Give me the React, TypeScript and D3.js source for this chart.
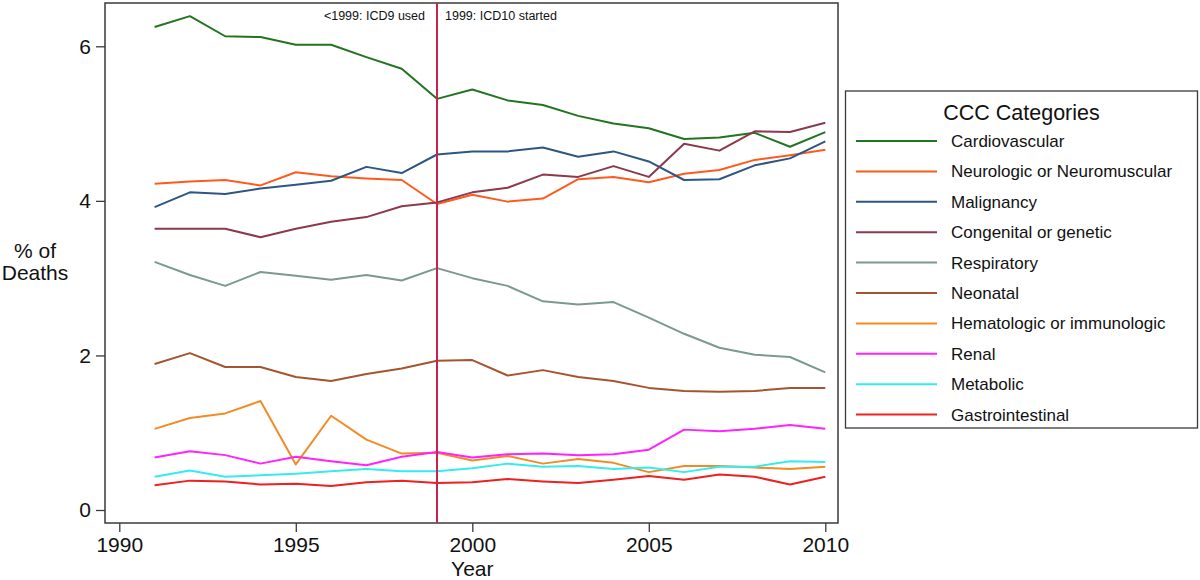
import React, { useEffect, useRef } from "react";
import * as d3 from "d3";

const years = [
  1991, 1992, 1993, 1994, 1995, 1996, 1997, 1998, 1999, 2000,
  2001, 2002, 2003, 2004, 2005, 2006, 2007, 2008, 2009, 2010,
];

const cardiovascular = [6.25, 6.39, 6.13, 6.12, 6.02, 6.02, 5.86, 5.71, 5.32, 5.44, 5.3, 5.24, 5.1, 5.0, 4.94, 4.8, 4.82, 4.88, 4.7, 4.89];
const neurologic = [4.22, 4.25, 4.27, 4.2, 4.37, 4.32, 4.29, 4.27, 3.96, 4.08, 3.99, 4.03, 4.28, 4.31, 4.24, 4.35, 4.4, 4.53, 4.59, 4.66];
const malignancy = [3.92, 4.11, 4.09, 4.16, 4.21, 4.26, 4.44, 4.36, 4.6, 4.64, 4.64, 4.69, 4.57, 4.64, 4.51, 4.27, 4.28, 4.46, 4.55, 4.77];
const congenital = [3.64, 3.64, 3.64, 3.53, 3.64, 3.73, 3.79, 3.93, 3.98, 4.11, 4.17, 4.34, 4.31, 4.45, 4.31, 4.74, 4.65, 4.9, 4.89, 5.01];
const respiratory = [3.21, 3.04, 2.9, 3.08, 3.03, 2.98, 3.04, 2.97, 3.13, 3.0, 2.9, 2.7, 2.66, 2.69, 2.49, 2.28, 2.1, 2.01, 1.98, 1.78];
const neonatal = [1.89, 2.03, 1.85, 1.85, 1.72, 1.67, 1.76, 1.83, 1.93, 1.94, 1.74, 1.81, 1.72, 1.67, 1.58, 1.54, 1.53, 1.54, 1.58, 1.58];
const hematologic = [1.05, 1.19, 1.25, 1.41, 0.59, 1.22, 0.91, 0.73, 0.74, 0.64, 0.7, 0.6, 0.66, 0.61, 0.49, 0.57, 0.57, 0.55, 0.53, 0.56];
const renal = [0.68, 0.76, 0.71, 0.6, 0.69, 0.63, 0.58, 0.69, 0.75, 0.68, 0.72, 0.73, 0.71, 0.72, 0.78, 1.04, 1.02, 1.05, 1.1, 1.05];
const metabolic = [0.43, 0.51, 0.43, 0.45, 0.47, 0.5, 0.53, 0.5, 0.5, 0.54, 0.6, 0.56, 0.57, 0.53, 0.55, 0.49, 0.56, 0.56, 0.63, 0.62];
const gastrointestinal = [0.32, 0.38, 0.37, 0.33, 0.34, 0.31, 0.36, 0.38, 0.35, 0.36, 0.4, 0.37, 0.35, 0.39, 0.44, 0.39, 0.46, 0.43, 0.33, 0.43];

const categories = [
  "Cardiovascular",
  "Neurologic or Neuromuscular",
  "Malignancy",
  "Congenital or genetic",
  "Respiratory",
  "Neonatal",
  "Hematologic or immunologic",
  "Renal",
  "Metabolic",
  "Gastrointestinal",
];
const seriesValues = [
  cardiovascular, neurologic, malignancy, congenital, respiratory,
  neonatal, hematologic, renal, metabolic, gastrointestinal,
];
const colors = [
  "#23741f", "#ff5a1e", "#2d5683", "#8a3a4c", "#7b9a8c",
  "#a4552f", "#f38b24", "#ff22ff", "#35ecec", "#ee2020",
];

const xTicks = [1990, 1995, 2000, 2005, 2010];
const yTicks = [0, 2, 4, 6];
const changeYear = 1999;

const FONT = "'Liberation Sans', Arial, Helvetica, sans-serif";

const App: React.FC = () => {
  const svgRef = useRef<SVGSVGElement | null>(null);

  useEffect(() => {
    if (!svgRef.current) return;
    const svg = d3.select(svgRef.current);
    svg.selectAll("*").remove();

    const width = 1200;
    const height = 580;
    const plot = { left: 105, right: 838, top: 3, bottom: 523 };

    svg.attr("width", width).attr("height", height);

    const x = d3.scaleLinear().domain([1990, 2010]).range([119.3, 825.3]);
    const y = d3.scaleLinear().domain([0, 6]).range([510, 46.3]);

    // frame
    svg
      .append("rect")
      .attr("x", plot.left)
      .attr("y", plot.top)
      .attr("width", plot.right - plot.left)
      .attr("height", plot.bottom - plot.top)
      .attr("fill", "white")
      .attr("stroke", "#3a3a3a")
      .attr("stroke-width", 1.5);

    // x axis
    const xAxis = svg
      .append("g")
      .attr("transform", `translate(0,${plot.bottom})`)
      .call(
        d3
          .axisBottom(x)
          .tickValues(xTicks)
          .tickFormat(d3.format("d"))
          .tickSize(9)
          .tickSizeOuter(0)
      );
    xAxis.select(".domain").remove();
    xAxis.selectAll("line").attr("stroke", "#3a3a3a").attr("stroke-width", 1.3);
    xAxis
      .selectAll("text")
      .attr("font-family", FONT)
      .attr("font-size", 21)
      .attr("fill", "#111")
      .attr("dy", "0.75em")
      .attr("y", 13);

    // y axis
    const yAxis = svg
      .append("g")
      .attr("transform", `translate(${plot.left},0)`)
      .call(
        d3
          .axisLeft(y)
          .tickValues(yTicks)
          .tickFormat(d3.format("d"))
          .tickSize(9)
          .tickSizeOuter(0)
      );
    yAxis.select(".domain").remove();
    yAxis.selectAll("line").attr("stroke", "#3a3a3a").attr("stroke-width", 1.3);
    yAxis
      .selectAll("text")
      .attr("font-family", FONT)
      .attr("font-size", 21)
      .attr("fill", "#111")
      .attr("x", -14);

    // axis titles
    svg
      .append("text")
      .attr("x", x(2000))
      .attr("y", 576)
      .attr("text-anchor", "middle")
      .attr("font-family", FONT)
      .attr("font-size", 21)
      .attr("fill", "#111")
      .text("Year");

    const yTitle = svg
      .append("text")
      .attr("text-anchor", "middle")
      .attr("font-family", FONT)
      .attr("font-size", 21)
      .attr("fill", "#111");
    yTitle.append("tspan").attr("x", 35).attr("y", 258).text("% of");
    yTitle.append("tspan").attr("x", 35).attr("y", 280).text("Deaths");

    // series lines
    const line = d3
      .line<number>()
      .x((_, i) => x(years[i]))
      .y((d) => y(d));

    seriesValues.forEach((vals, i) => {
      svg
        .append("path")
        .datum(vals)
        .attr("d", line)
        .attr("fill", "none")
        .attr("stroke", colors[i])
        .attr("stroke-width", 2)
        .attr("stroke-linejoin", "round");
    });

    // ICD change marker
    svg
      .append("line")
      .attr("x1", x(changeYear))
      .attr("x2", x(changeYear))
      .attr("y1", plot.top)
      .attr("y2", plot.bottom)
      .attr("stroke", "#c8224e")
      .attr("stroke-width", 2);

    svg
      .append("text")
      .attr("x", x(changeYear) - 12)
      .attr("y", 20)
      .attr("text-anchor", "end")
      .attr("font-family", FONT)
      .attr("font-size", 12.5)
      .attr("fill", "#111")
      .text("<1999: ICD9 used");
    svg
      .append("text")
      .attr("x", x(changeYear) + 8)
      .attr("y", 20)
      .attr("font-family", FONT)
      .attr("font-size", 12.5)
      .attr("fill", "#111")
      .text("1999: ICD10 started");

    // legend
    const legend = svg.append("g");
    legend
      .append("rect")
      .attr("x", 845.5)
      .attr("y", 91)
      .attr("width", 352)
      .attr("height", 337)
      .attr("fill", "white")
      .attr("stroke", "#3a3a3a")
      .attr("stroke-width", 1.3);
    legend
      .append("text")
      .attr("x", 1021.5)
      .attr("y", 120)
      .attr("text-anchor", "middle")
      .attr("font-family", FONT)
      .attr("font-size", 21.5)
      .attr("fill", "#111")
      .text("CCC Categories");

    categories.forEach((name, i) => {
      const ly = 141 + i * 30.4;
      legend
        .append("line")
        .attr("x1", 856)
        .attr("x2", 937)
        .attr("y1", ly)
        .attr("y2", ly)
        .attr("stroke", colors[i])
        .attr("stroke-width", 2);
      legend
        .append("text")
        .attr("x", 951)
        .attr("y", ly + 6)
        .attr("font-family", FONT)
        .attr("font-size", 17)
        .attr("fill", "#111")
        .text(name);
    });
  }, []);

  return (
    <div style={{ position: "absolute", left: 0, top: 0, background: "white" }}>
      <svg ref={svgRef} style={{ display: "block" }}></svg>
    </div>
  );
};

export default App;
